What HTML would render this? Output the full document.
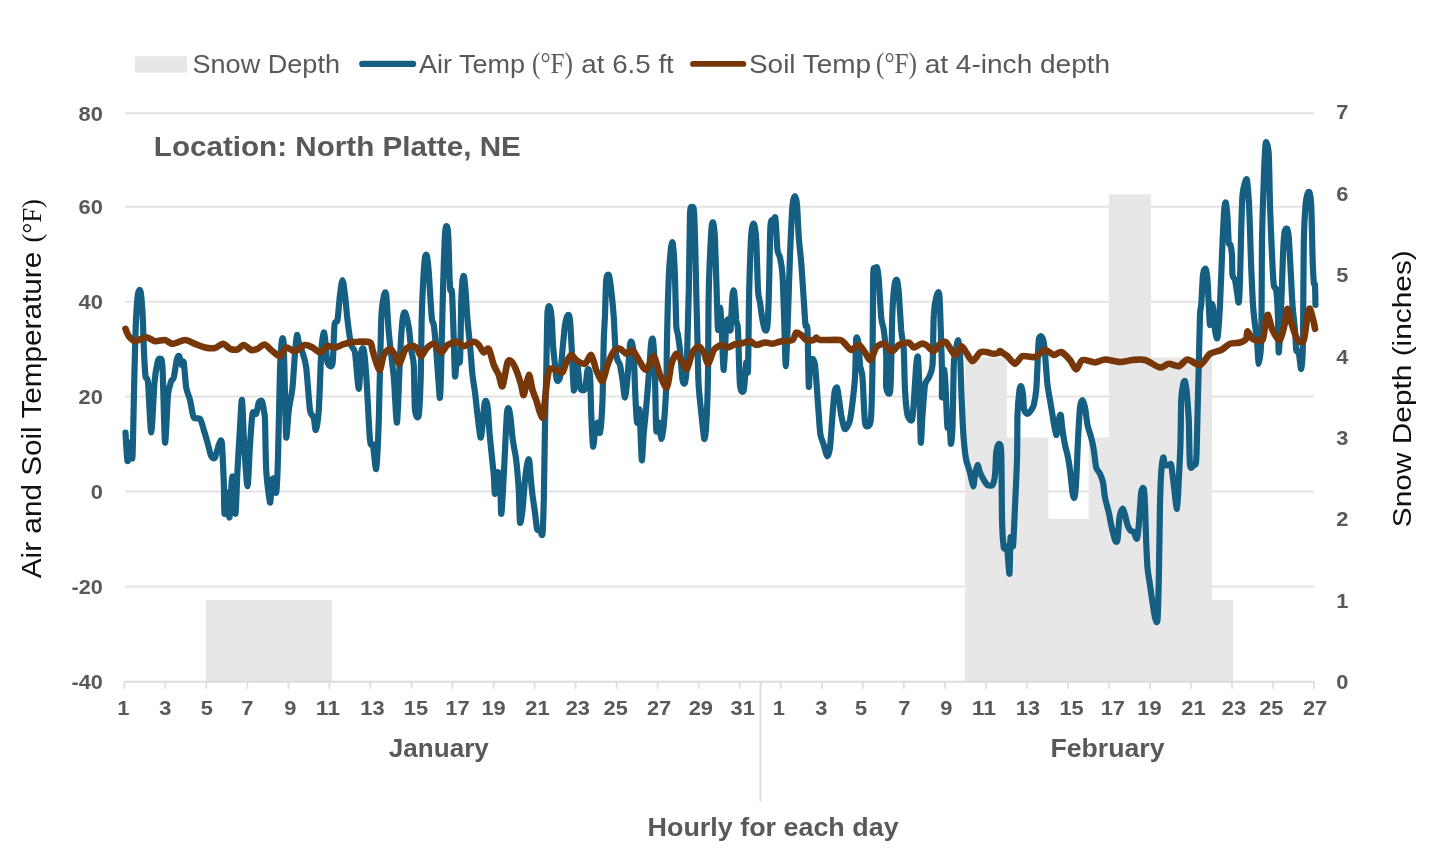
<!DOCTYPE html><html><head><meta charset="utf-8"><title>Chart</title><style>
html,body{margin:0;padding:0;background:#fff;}svg{display:block}
text{font-family:"Liberation Sans",sans-serif;}
.b{font-weight:bold;fill:#595959}.g{fill:#595959}.k{fill:#111}.s{font-family:"Liberation Serif",serif}
</style></head><body>
<svg width="1440" height="865" viewBox="0 0 1440 865">
<rect width="1440" height="865" fill="#fff"/>
<line x1="125" x2="1314" y1="113.3" y2="113.3" stroke="#e3e3e3" stroke-width="2"/>
<line x1="125" x2="1314" y1="206.8" y2="206.8" stroke="#e3e3e3" stroke-width="2"/>
<line x1="125" x2="1314" y1="301.7" y2="301.7" stroke="#e3e3e3" stroke-width="2"/>
<line x1="125" x2="1314" y1="396.6" y2="396.6" stroke="#e3e3e3" stroke-width="2"/>
<line x1="125" x2="1314" y1="491.5" y2="491.5" stroke="#e3e3e3" stroke-width="2"/>
<line x1="125" x2="1314" y1="586.4" y2="586.4" stroke="#e3e3e3" stroke-width="2"/>
<rect x="205.8" y="600" width="126.2" height="81.70" fill="#e7e7e7"/>
<path d="M965,681.7 L965,357.5 L1006.8,357.5 L1006.8,437.5 L1048.4,437.5 L1048.4,518.8 L1088.7,518.8 L1088.7,437.5 L1108.9,437.5 L1108.9,194.3 L1151,194.3 L1151,357.5 L1212,357.5 L1212,600 L1233.2,600 L1233.2,681.7 Z" fill="#e7e7e7"/>
<line x1="124" x2="1314.5" y1="681.7" y2="681.7" stroke="#dcdcdc" stroke-width="2"/>
<line x1="124.25" x2="124.25" y1="681.7" y2="688.8" stroke="#dedede" stroke-width="1.8"/>
<line x1="165.28" x2="165.28" y1="681.7" y2="688.8" stroke="#dedede" stroke-width="1.8"/>
<line x1="206.31" x2="206.31" y1="681.7" y2="688.8" stroke="#dedede" stroke-width="1.8"/>
<line x1="247.34" x2="247.34" y1="681.7" y2="688.8" stroke="#dedede" stroke-width="1.8"/>
<line x1="288.37" x2="288.37" y1="681.7" y2="688.8" stroke="#dedede" stroke-width="1.8"/>
<line x1="329.40" x2="329.40" y1="681.7" y2="688.8" stroke="#dedede" stroke-width="1.8"/>
<line x1="370.43" x2="370.43" y1="681.7" y2="688.8" stroke="#dedede" stroke-width="1.8"/>
<line x1="411.46" x2="411.46" y1="681.7" y2="688.8" stroke="#dedede" stroke-width="1.8"/>
<line x1="452.49" x2="452.49" y1="681.7" y2="688.8" stroke="#dedede" stroke-width="1.8"/>
<line x1="493.52" x2="493.52" y1="681.7" y2="688.8" stroke="#dedede" stroke-width="1.8"/>
<line x1="534.55" x2="534.55" y1="681.7" y2="688.8" stroke="#dedede" stroke-width="1.8"/>
<line x1="575.58" x2="575.58" y1="681.7" y2="688.8" stroke="#dedede" stroke-width="1.8"/>
<line x1="616.61" x2="616.61" y1="681.7" y2="688.8" stroke="#dedede" stroke-width="1.8"/>
<line x1="657.64" x2="657.64" y1="681.7" y2="688.8" stroke="#dedede" stroke-width="1.8"/>
<line x1="698.67" x2="698.67" y1="681.7" y2="688.8" stroke="#dedede" stroke-width="1.8"/>
<line x1="739.70" x2="739.70" y1="681.7" y2="688.8" stroke="#dedede" stroke-width="1.8"/>
<line x1="780.73" x2="780.73" y1="681.7" y2="688.8" stroke="#dedede" stroke-width="1.8"/>
<line x1="821.76" x2="821.76" y1="681.7" y2="688.8" stroke="#dedede" stroke-width="1.8"/>
<line x1="862.79" x2="862.79" y1="681.7" y2="688.8" stroke="#dedede" stroke-width="1.8"/>
<line x1="903.82" x2="903.82" y1="681.7" y2="688.8" stroke="#dedede" stroke-width="1.8"/>
<line x1="944.85" x2="944.85" y1="681.7" y2="688.8" stroke="#dedede" stroke-width="1.8"/>
<line x1="985.88" x2="985.88" y1="681.7" y2="688.8" stroke="#dedede" stroke-width="1.8"/>
<line x1="1026.91" x2="1026.91" y1="681.7" y2="688.8" stroke="#dedede" stroke-width="1.8"/>
<line x1="1067.94" x2="1067.94" y1="681.7" y2="688.8" stroke="#dedede" stroke-width="1.8"/>
<line x1="1108.97" x2="1108.97" y1="681.7" y2="688.8" stroke="#dedede" stroke-width="1.8"/>
<line x1="1150.00" x2="1150.00" y1="681.7" y2="688.8" stroke="#dedede" stroke-width="1.8"/>
<line x1="1191.03" x2="1191.03" y1="681.7" y2="688.8" stroke="#dedede" stroke-width="1.8"/>
<line x1="1232.06" x2="1232.06" y1="681.7" y2="688.8" stroke="#dedede" stroke-width="1.8"/>
<line x1="1273.09" x2="1273.09" y1="681.7" y2="688.8" stroke="#dedede" stroke-width="1.8"/>
<line x1="1314.12" x2="1314.12" y1="681.7" y2="688.8" stroke="#dedede" stroke-width="1.8"/>
<line x1="760.5" x2="760.5" y1="681.7" y2="801" stroke="#dcdcdc" stroke-width="2"/>
<path d="M125.5,432.5 C125.8,436.3 126.8,459.9 127.5,461.2 C128.2,462.6 129.8,443.2 130.5,442.5 C131.2,441.8 132.0,465.9 132.5,456.2 C133.0,446.6 134.0,388.2 134.5,370.0 C135.0,351.8 135.5,330.2 136.0,320.0 C136.5,309.8 137.4,297.6 138.0,293.8 C138.6,289.9 139.9,288.8 140.5,291.2 C141.1,293.8 142.0,304.3 142.5,312.5 C143.0,320.7 143.6,344.0 144.0,352.5 C144.4,361.0 145.0,372.2 145.5,376.2 C146.0,380.2 147.2,375.0 148.0,382.5 C148.8,390.0 150.4,432.5 151.2,432.5 C152.1,432.5 153.7,391.8 154.5,382.5 C155.3,373.2 156.8,365.7 157.5,362.5 C158.2,359.3 159.3,358.1 160.0,358.8 C160.7,359.4 161.8,356.3 162.5,367.5 C163.2,378.7 164.3,438.8 165.0,442.5 C165.7,446.2 167.2,403.2 168.0,395.0 C168.8,386.8 170.5,383.6 171.2,381.2 C172.0,378.9 173.0,380.5 173.8,377.5 C174.5,374.5 176.3,361.6 177.0,358.8 C177.7,355.9 178.6,355.4 179.2,356.2 C179.9,357.1 181.2,364.2 181.8,365.0 C182.3,365.8 183.2,359.5 183.8,362.5 C184.3,365.5 185.4,382.5 186.2,387.5 C187.1,392.5 189.0,396.0 190.0,400.0 C191.0,404.0 192.4,415.0 193.8,417.5 C195.1,420.0 198.7,417.1 200.0,418.8 C201.3,420.4 202.8,426.8 203.8,430.0 C204.8,433.2 206.5,439.0 207.5,442.5 C208.5,446.0 210.2,454.2 211.2,456.2 C212.2,458.2 214.0,459.0 215.0,457.5 C216.0,456.0 217.8,447.0 218.8,445.0 C219.7,443.0 221.1,437.5 221.8,442.5 C222.4,447.5 223.4,473.0 223.8,482.5 C224.1,492.0 224.1,512.4 224.5,513.8 C224.9,515.1 226.3,492.0 227.0,492.5 C227.7,493.0 228.9,519.2 229.5,517.5 C230.1,515.8 231.2,485.0 231.8,480.0 C232.3,475.0 233.2,475.5 233.8,480.0 C234.2,484.5 235.0,515.1 235.5,513.8 C236.0,512.4 236.9,481.5 237.5,470.0 C238.1,458.5 239.4,436.8 240.0,427.5 C240.6,418.2 241.4,397.7 242.0,400.0 C242.6,402.3 243.5,433.5 244.2,445.0 C245.0,456.5 246.7,486.2 247.5,486.2 C248.3,486.2 249.3,454.7 250.0,445.0 C250.7,435.3 251.7,417.9 252.5,413.8 C253.3,409.6 255.4,415.2 256.2,413.8 C257.1,412.2 258.0,404.2 258.8,402.5 C259.5,400.8 261.3,400.2 262.0,401.2 C262.7,402.2 263.4,407.5 263.8,410.0 C264.1,412.5 264.7,412.0 265.0,420.0 C265.3,428.0 265.6,459.0 266.2,470.0 C266.9,481.0 269.3,500.8 270.0,502.5 C270.7,504.2 271.2,485.7 271.8,482.5 C272.2,479.3 273.1,477.4 273.8,478.8 C274.4,480.1 275.7,495.3 276.2,492.5 C276.8,489.7 277.5,473.8 278.0,457.5 C278.5,441.2 279.5,385.7 280.0,370.0 C280.5,354.3 281.5,343.3 282.0,340.0 C282.5,336.7 283.4,337.7 283.8,345.0 C284.1,352.3 284.7,382.7 285.0,395.0 C285.3,407.3 285.8,435.5 286.2,437.5 C286.8,439.5 287.9,416.7 288.8,410.0 C289.6,403.3 291.7,395.2 292.5,387.5 C293.3,379.8 294.4,359.5 295.0,352.5 C295.6,345.5 296.5,336.3 297.0,335.0 C297.5,333.7 298.0,340.2 298.8,342.5 C299.5,344.8 301.5,349.2 302.5,352.5 C303.5,355.8 305.2,359.8 306.2,367.5 C307.2,375.2 309.0,403.3 310.0,410.0 C311.0,416.7 313.0,414.8 313.8,417.5 C314.5,420.2 315.1,431.0 315.8,430.0 C316.4,429.0 318.0,420.3 318.8,410.0 C319.5,399.7 320.6,362.8 321.2,352.5 C321.9,342.2 323.2,333.8 323.8,332.5 C324.3,331.2 325.0,338.5 325.5,342.5 C326.0,346.5 326.6,359.7 327.5,362.5 C328.4,365.3 331.6,368.8 332.5,363.8 C333.4,358.8 333.8,330.8 334.5,325.0 C335.2,319.2 336.8,324.0 337.5,320.0 C338.2,316.0 339.3,300.3 340.0,295.0 C340.7,289.7 341.8,280.0 342.5,280.0 C343.2,280.0 344.3,289.7 345.0,295.0 C345.7,300.3 346.7,313.3 347.5,320.0 C348.3,326.7 350.2,340.7 351.2,345.0 C352.2,349.3 354.0,346.7 355.0,352.5 C356.0,358.3 357.9,388.8 358.8,388.8 C359.6,388.8 360.6,357.7 361.2,352.5 C361.9,347.3 363.1,347.0 363.8,350.0 C364.4,353.0 365.4,363.0 366.2,375.0 C367.1,387.0 369.1,430.7 370.0,440.0 C370.9,449.3 372.2,441.2 373.0,445.0 C373.8,448.8 375.5,472.1 376.2,468.8 C377.0,465.4 378.1,439.8 378.8,420.0 C379.4,400.2 380.6,336.5 381.2,320.0 C381.9,303.5 383.1,299.6 383.8,296.2 C384.4,292.9 385.6,290.2 386.2,295.0 C386.9,299.8 387.8,321.5 388.8,332.5 C389.8,343.5 392.6,365.5 393.8,377.5 C394.9,389.5 396.2,425.2 397.0,422.5 C397.8,419.8 399.3,371.2 400.0,357.5 C400.7,343.8 401.8,326.0 402.5,320.0 C403.2,314.0 404.2,311.5 405.0,312.5 C405.8,313.5 407.9,322.5 408.8,327.5 C409.6,332.5 410.6,345.0 411.2,350.0 C411.9,355.0 413.2,357.0 413.8,365.0 C414.2,373.0 414.3,403.3 415.0,410.0 C415.7,416.7 418.0,419.7 418.8,415.0 C419.5,410.3 420.4,388.3 420.8,375.0 C421.1,361.7 421.4,327.0 421.8,315.0 C422.1,303.0 422.6,292.7 423.0,285.0 C423.4,277.3 424.5,261.3 425.0,257.5 C425.5,253.7 426.5,254.2 427.0,256.2 C427.5,258.2 428.3,266.7 428.8,272.5 C429.2,278.3 430.1,293.7 430.5,300.0 C430.9,306.3 431.6,316.7 432.0,320.0 C432.4,323.3 433.2,321.0 433.8,325.0 C434.3,329.0 435.6,342.0 436.2,350.0 C436.9,358.0 438.2,378.7 438.8,385.0 C439.2,391.3 439.7,400.2 440.0,397.5 C440.3,394.8 440.9,379.3 441.2,365.0 C441.6,350.7 442.5,307.3 443.0,290.0 C443.5,272.7 444.5,243.5 445.0,235.0 C445.5,226.5 446.1,226.2 446.5,226.2 C446.9,226.2 447.8,226.8 448.2,235.0 C448.7,243.2 449.5,279.8 450.0,287.5 C450.5,295.2 451.5,285.5 452.0,292.5 C452.5,299.5 453.4,328.8 453.8,340.0 C454.1,351.2 454.6,373.6 455.0,376.2 C455.4,378.9 456.3,362.2 457.0,360.0 C457.7,357.8 459.4,367.7 460.0,360.0 C460.6,352.3 460.9,313.2 461.2,302.5 C461.6,291.8 462.1,283.5 462.5,280.0 C462.9,276.5 463.6,274.9 464.0,276.2 C464.4,277.6 465.0,284.2 465.5,290.0 C466.0,295.8 466.9,312.7 467.5,320.0 C468.1,327.3 469.3,337.7 470.0,345.0 C470.7,352.3 471.8,368.7 472.5,375.0 C473.2,381.3 474.3,387.2 475.0,392.5 C475.7,397.8 476.8,409.0 477.5,415.0 C478.2,421.0 479.8,436.2 480.5,437.5 C481.2,438.8 482.0,429.5 482.5,425.0 C483.0,420.5 484.0,406.9 484.5,403.8 C485.0,400.6 485.8,400.4 486.2,401.2 C486.7,402.1 487.6,405.8 488.0,410.0 C488.4,414.2 489.1,427.2 489.5,432.5 C489.9,437.8 490.7,444.3 491.2,450.0 C491.8,455.7 493.2,469.2 493.8,475.0 C494.2,480.8 494.5,494.1 495.0,493.8 C495.5,493.4 496.8,474.3 497.5,472.5 C498.2,470.7 499.5,474.5 500.0,480.0 C500.5,485.5 500.9,512.4 501.2,513.8 C501.6,515.1 502.5,498.5 503.0,490.0 C503.5,481.5 504.5,460.3 505.0,450.0 C505.5,439.7 506.5,418.0 507.0,412.5 C507.5,407.0 508.3,408.1 508.8,408.8 C509.2,409.4 510.0,413.7 510.5,417.5 C511.0,421.3 512.0,433.2 512.5,437.5 C513.0,441.8 514.0,447.0 514.5,450.0 C515.0,453.0 515.7,454.7 516.2,460.0 C516.8,465.3 518.2,481.7 518.8,490.0 C519.2,498.3 519.5,519.8 520.0,522.5 C520.5,525.2 521.8,515.7 522.5,510.0 C523.2,504.3 524.3,486.3 525.0,480.0 C525.7,473.7 526.9,465.2 527.5,462.5 C528.1,459.8 528.9,458.3 529.2,460.0 C529.6,461.7 530.1,470.3 530.5,475.0 C530.9,479.7 531.9,490.0 532.5,495.0 C533.1,500.0 534.4,508.0 535.0,512.5 C535.6,517.0 536.3,526.4 537.0,528.8 C537.7,531.1 539.3,529.3 540.0,530.0 C540.7,530.7 542.0,537.8 542.5,533.8 C543.0,529.8 543.4,514.5 543.8,500.0 C544.1,485.5 544.7,441.7 545.0,425.0 C545.3,408.3 545.9,390.0 546.2,375.0 C546.6,360.0 547.0,321.5 547.5,312.5 C548.0,303.5 549.4,306.5 550.0,307.5 C550.6,308.5 551.4,315.0 551.8,320.0 C552.1,325.0 552.6,339.0 553.0,345.0 C553.4,351.0 554.5,360.3 555.0,365.0 C555.5,369.7 556.1,378.3 556.8,380.0 C557.4,381.7 559.2,381.5 560.0,377.5 C560.8,373.5 561.8,357.0 562.5,350.0 C563.2,343.0 564.3,329.7 565.0,325.0 C565.7,320.3 567.3,315.7 568.0,315.0 C568.7,314.3 569.5,315.3 570.0,320.0 C570.5,324.7 571.2,340.7 571.8,350.0 C572.2,359.3 573.3,386.7 573.8,390.0 C574.2,393.3 574.5,378.3 575.0,375.0 C575.5,371.7 576.8,363.3 577.5,365.0 C578.2,366.7 579.0,384.3 580.0,387.5 C581.0,390.7 584.0,391.1 585.0,388.8 C586.0,386.4 586.8,371.8 587.5,370.0 C588.2,368.2 589.5,369.3 590.0,375.0 C590.5,380.7 590.9,403.0 591.2,412.5 C591.6,422.0 592.5,443.6 593.0,446.2 C593.5,448.9 594.4,435.7 595.0,432.5 C595.6,429.3 596.8,422.5 597.5,422.5 C598.2,422.5 599.3,435.5 600.0,432.5 C600.7,429.5 602.0,412.3 602.5,400.0 C603.0,387.7 603.4,351.3 603.8,340.0 C604.1,328.7 604.7,323.0 605.0,315.0 C605.3,307.0 605.8,285.3 606.2,280.0 C606.8,274.7 608.1,273.7 608.8,275.0 C609.4,276.3 610.6,284.3 611.2,290.0 C611.9,295.7 613.2,309.5 613.8,317.5 C614.3,325.5 615.0,344.3 615.5,350.0 C616.0,355.7 616.9,358.0 617.5,360.0 C618.1,362.0 619.3,362.3 620.0,365.0 C620.7,367.7 621.8,375.7 622.5,380.0 C623.2,384.3 624.3,397.8 625.0,397.5 C625.7,397.2 626.8,384.5 627.5,377.5 C628.2,370.5 629.4,349.7 630.0,345.0 C630.6,340.3 631.2,341.2 631.8,342.5 C632.2,343.8 633.3,349.0 633.8,355.0 C634.2,361.0 634.6,378.5 635.0,387.5 C635.4,396.5 636.4,419.5 637.0,422.5 C637.6,425.5 638.9,405.0 639.5,410.0 C640.1,415.0 641.2,457.0 641.8,460.0 C642.3,463.0 643.1,439.5 643.8,432.5 C644.4,425.5 645.6,415.2 646.2,407.5 C646.9,399.8 648.1,383.7 648.8,375.0 C649.4,366.3 650.7,347.2 651.2,342.5 C651.8,337.8 652.6,337.7 653.0,340.0 C653.4,342.3 654.2,355.3 654.5,360.0 C654.8,364.7 654.8,365.7 655.0,375.0 C655.2,384.3 655.8,423.7 656.2,430.0 C656.8,436.3 658.1,421.3 658.8,422.5 C659.4,423.7 660.6,438.4 661.2,438.8 C661.9,439.1 663.1,431.8 663.8,425.0 C664.4,418.2 665.8,398.8 666.2,387.5 C666.7,376.2 666.7,354.7 667.0,340.0 C667.3,325.3 668.2,290.0 668.8,277.5 C669.3,265.0 670.7,250.6 671.2,246.2 C671.8,241.9 672.5,240.8 673.0,245.0 C673.5,249.2 674.6,266.8 675.0,277.5 C675.4,288.2 675.9,317.3 676.2,325.0 C676.6,332.7 677.5,331.7 678.0,335.0 C678.5,338.3 679.4,344.0 680.0,350.0 C680.6,356.0 681.8,375.7 682.5,380.0 C683.2,384.3 684.4,384.5 685.0,382.5 C685.6,380.5 686.2,377.3 686.8,365.0 C687.2,352.7 688.3,310.0 688.8,290.0 C689.2,270.0 689.6,226.0 690.0,215.0 C690.4,204.0 691.4,207.5 692.0,207.5 C692.6,207.5 693.7,204.0 694.2,215.0 C694.8,226.0 695.8,270.0 696.2,290.0 C696.8,310.0 697.7,352.0 698.0,365.0 C698.3,378.0 698.3,381.2 698.8,387.5 C699.2,393.8 700.5,405.7 701.2,412.5 C702.0,419.3 703.6,437.1 704.2,438.8 C704.9,440.4 705.8,433.5 706.2,425.0 C706.8,416.5 707.7,393.0 708.0,375.0 C708.3,357.0 708.3,309.0 708.8,290.0 C709.2,271.0 710.7,241.5 711.2,232.5 C711.8,223.5 712.5,221.5 713.0,222.5 C713.5,223.5 714.5,229.3 715.0,240.0 C715.5,250.7 716.6,290.5 717.0,302.5 C717.4,314.5 717.6,329.3 718.0,330.0 C718.4,330.7 719.5,307.5 720.0,307.5 C720.5,307.5 721.2,321.7 721.8,330.0 C722.2,338.3 723.1,370.7 723.8,370.0 C724.4,369.3 725.6,331.7 726.2,325.0 C726.9,318.3 728.2,319.3 728.8,320.0 C729.3,320.7 730.0,333.3 730.5,330.0 C731.0,326.7 732.0,300.0 732.5,295.0 C733.0,290.0 733.8,289.2 734.2,292.5 C734.8,295.8 735.8,315.0 736.2,320.0 C736.8,325.0 737.5,321.3 738.0,330.0 C738.5,338.7 739.2,377.0 740.0,385.0 C740.8,393.0 742.9,393.0 743.8,390.0 C744.6,387.0 745.7,365.2 746.2,362.5 C746.8,359.8 747.6,379.7 748.0,370.0 C748.4,360.3 748.8,308.0 749.2,290.0 C749.7,272.0 750.6,243.8 751.2,235.0 C751.9,226.2 753.1,223.1 753.8,223.8 C754.4,224.4 755.7,231.2 756.2,240.0 C756.8,248.8 757.5,281.7 758.0,290.0 C758.5,298.3 759.4,298.5 760.0,302.5 C760.6,306.5 761.8,316.3 762.5,320.0 C763.2,323.7 764.3,329.3 765.0,330.0 C765.7,330.7 766.9,331.7 767.5,325.0 C768.1,318.3 768.9,293.3 769.2,280.0 C769.6,266.7 769.9,233.0 770.5,225.0 C771.1,217.0 773.1,220.8 773.8,220.0 C774.4,219.2 775.0,214.8 775.5,218.8 C776.0,222.8 776.9,244.8 777.5,250.0 C778.1,255.2 779.3,254.2 780.0,257.5 C780.7,260.8 781.9,265.3 782.5,275.0 C783.1,284.7 784.1,317.8 784.5,330.0 C784.9,342.2 785.4,366.2 785.8,366.2 C786.1,366.2 786.9,344.8 787.5,330.0 C788.1,315.2 789.3,271.7 790.0,255.0 C790.7,238.3 791.8,212.8 792.5,205.0 C793.2,197.2 794.4,196.2 795.0,196.2 C795.6,196.2 796.5,199.5 797.0,205.0 C797.5,210.5 798.2,229.8 798.8,237.5 C799.3,245.2 800.6,254.2 801.2,262.5 C801.9,270.8 803.2,291.7 803.8,300.0 C804.3,308.3 805.0,321.0 805.5,325.0 C806.0,329.0 807.1,321.8 807.5,330.0 C807.9,338.2 808.4,381.6 808.8,386.2 C809.1,390.9 809.5,368.7 810.0,365.0 C810.5,361.3 811.8,358.8 812.5,358.8 C813.2,358.8 814.4,360.8 815.0,365.0 C815.6,369.2 816.5,383.3 817.0,390.0 C817.5,396.7 818.3,409.0 818.8,415.0 C819.2,421.0 819.8,431.0 820.5,435.0 C821.2,439.0 822.9,442.2 823.8,445.0 C824.6,447.8 826.2,455.9 827.0,456.2 C827.8,456.6 829.3,453.0 830.0,447.5 C830.7,442.0 831.9,422.3 832.5,415.0 C833.1,407.7 833.9,396.2 834.5,392.5 C835.1,388.8 836.4,386.8 837.0,387.5 C837.6,388.2 838.2,393.8 838.8,397.5 C839.3,401.2 840.5,410.8 841.2,415.0 C842.0,419.2 843.7,427.2 844.5,428.8 C845.3,430.2 846.8,427.4 847.5,426.2 C848.2,425.1 849.3,423.2 850.0,420.0 C850.7,416.8 851.8,408.2 852.5,402.5 C853.2,396.8 854.5,386.0 855.0,377.5 C855.5,369.0 855.8,343.1 856.2,338.8 C856.8,334.4 858.2,341.5 858.8,345.0 C859.2,348.5 859.5,360.7 860.0,365.0 C860.5,369.3 861.8,369.8 862.5,377.5 C863.2,385.2 864.1,416.2 865.0,422.5 C865.9,428.8 868.7,426.0 869.5,425.0 C870.3,424.0 870.9,423.0 871.2,415.0 C871.6,407.0 872.2,383.7 872.5,365.0 C872.8,346.3 872.9,287.7 873.2,275.0 C873.6,262.3 874.5,271.0 875.0,270.0 C875.5,269.0 876.5,266.2 877.0,267.5 C877.5,268.8 878.2,273.3 878.8,280.0 C879.3,286.7 880.6,310.8 881.2,317.5 C881.9,324.2 883.1,325.0 883.8,330.0 C884.4,335.0 885.9,347.3 886.2,355.0 C886.6,362.7 885.8,382.5 886.2,387.5 C886.8,392.5 889.3,395.5 890.0,392.5 C890.7,389.5 891.0,375.0 891.2,365.0 C891.5,355.0 892.0,326.5 892.2,317.5 C892.5,308.5 892.9,302.2 893.2,297.5 C893.6,292.8 894.5,284.8 895.0,282.5 C895.5,280.2 896.5,278.7 897.0,280.0 C897.5,281.3 898.2,285.8 898.8,292.5 C899.3,299.2 900.6,322.3 901.2,330.0 C901.9,337.7 903.2,342.0 903.8,350.0 C904.2,358.0 904.5,381.3 905.0,390.0 C905.5,398.7 906.6,411.0 907.5,415.0 C908.4,419.0 911.2,421.7 912.0,420.0 C912.8,418.3 913.2,409.8 913.8,402.5 C914.3,395.2 915.7,371.0 916.2,365.0 C916.8,359.0 917.6,354.2 918.0,357.5 C918.4,360.8 919.1,378.7 919.5,390.0 C919.9,401.3 920.4,439.2 920.8,442.5 C921.1,445.8 921.9,422.7 922.5,415.0 C923.1,407.3 924.2,390.0 925.0,385.0 C925.8,380.0 927.8,380.2 928.8,377.5 C929.8,374.8 931.8,373.3 932.5,365.0 C933.2,356.7 933.2,324.0 933.8,315.0 C934.2,306.0 935.5,300.3 936.2,297.5 C937.0,294.7 938.6,289.4 939.2,293.8 C939.9,298.1 940.4,319.8 940.8,330.0 C941.1,340.2 941.8,361.0 942.0,370.0 C942.2,379.0 941.7,397.5 942.0,397.5 C942.3,397.5 943.9,369.3 944.5,370.0 C945.1,370.7 945.9,394.8 946.2,402.5 C946.6,410.2 947.1,425.2 947.5,427.5 C947.9,429.8 949.1,417.8 949.5,420.0 C949.9,422.2 950.4,442.8 950.8,443.8 C951.1,444.8 952.1,438.0 952.5,427.5 C952.9,417.0 953.4,374.7 953.8,365.0 C954.1,355.3 954.4,358.3 955.0,355.0 C955.6,351.7 957.3,340.0 958.0,340.0 C958.7,340.0 959.7,351.7 960.0,355.0 C960.3,358.3 960.3,358.7 960.5,365.0 C960.7,371.3 961.3,392.5 961.8,402.5 C962.2,412.5 963.1,432.3 963.8,440.0 C964.4,447.7 965.4,455.7 966.2,460.0 C967.1,464.3 969.1,469.0 970.0,472.5 C970.9,476.0 972.6,485.9 973.2,486.2 C973.9,486.6 974.4,477.8 975.0,475.0 C975.6,472.2 976.8,465.3 977.5,465.0 C978.2,464.7 979.2,470.5 980.0,472.5 C980.8,474.5 982.8,478.3 983.8,480.0 C984.8,481.7 986.3,484.3 987.5,485.0 C988.7,485.7 991.5,486.3 992.5,485.0 C993.5,483.7 994.5,479.3 995.0,475.0 C995.5,470.7 995.8,456.7 996.2,452.5 C996.8,448.3 998.1,443.8 998.8,443.8 C999.4,443.8 1000.8,442.7 1001.2,452.5 C1001.7,462.3 1001.7,504.8 1002.0,517.5 C1002.3,530.2 1003.1,543.5 1003.8,547.5 C1004.4,551.5 1006.2,544.0 1007.0,547.5 C1007.8,551.0 1009.0,575.1 1009.5,573.8 C1010.0,572.4 1010.0,541.2 1010.5,537.5 C1011.0,533.8 1012.5,548.9 1013.0,546.2 C1013.5,543.6 1014.0,529.0 1014.5,517.5 C1015.0,506.0 1016.6,473.7 1017.0,460.0 C1017.4,446.3 1017.2,424.3 1017.5,415.0 C1017.8,405.7 1019.0,393.8 1019.5,390.0 C1020.0,386.2 1020.8,385.6 1021.2,386.2 C1021.7,386.9 1022.6,391.8 1023.0,395.0 C1023.4,398.2 1023.6,407.5 1024.2,410.0 C1024.8,412.5 1026.6,413.8 1027.5,413.8 C1028.4,413.8 1030.4,411.2 1031.2,410.0 C1032.1,408.8 1033.1,407.7 1033.8,405.0 C1034.4,402.3 1035.8,395.3 1036.2,390.0 C1036.8,384.7 1037.2,371.7 1037.5,365.0 C1037.8,358.3 1038.2,343.8 1038.8,340.0 C1039.2,336.2 1040.6,335.9 1041.2,336.2 C1041.9,336.6 1043.2,339.3 1043.8,342.5 C1044.3,345.7 1045.0,354.3 1045.5,360.0 C1046.0,365.7 1046.9,379.7 1047.5,385.0 C1048.1,390.3 1049.3,396.0 1050.0,400.0 C1050.7,404.0 1051.7,410.3 1052.5,415.0 C1053.3,419.7 1055.4,434.3 1056.2,435.0 C1057.1,435.7 1058.2,422.7 1058.8,420.0 C1059.3,417.3 1060.2,413.7 1060.8,415.0 C1061.2,416.3 1061.9,426.0 1062.5,430.0 C1063.1,434.0 1064.3,441.7 1065.0,445.0 C1065.7,448.3 1066.8,451.7 1067.5,455.0 C1068.2,458.3 1069.3,465.0 1070.0,470.0 C1070.7,475.0 1071.9,488.8 1072.5,492.5 C1073.1,496.2 1074.0,499.2 1074.5,497.5 C1075.0,495.8 1075.8,487.7 1076.2,480.0 C1076.7,472.3 1077.5,449.7 1078.0,440.0 C1078.5,430.3 1079.4,412.8 1080.0,407.5 C1080.6,402.2 1081.8,400.0 1082.5,400.0 C1083.2,400.0 1084.3,404.2 1085.0,407.5 C1085.7,410.8 1086.7,421.0 1087.5,425.0 C1088.3,429.0 1090.4,434.2 1091.2,437.5 C1092.1,440.8 1093.1,446.0 1093.8,450.0 C1094.4,454.0 1095.4,464.3 1096.2,467.5 C1097.1,470.7 1099.1,471.8 1100.0,473.8 C1100.9,475.8 1102.3,479.3 1103.0,482.5 C1103.7,485.7 1104.2,493.5 1105.0,497.5 C1105.8,501.5 1107.9,508.8 1108.8,512.5 C1109.6,516.2 1110.4,521.3 1111.2,525.0 C1112.1,528.7 1114.2,538.0 1115.0,540.0 C1115.8,542.0 1116.9,543.0 1117.5,540.0 C1118.1,537.0 1118.8,521.7 1119.5,517.5 C1120.2,513.3 1121.8,509.1 1122.5,508.8 C1123.2,508.4 1124.3,512.8 1125.0,515.0 C1125.7,517.2 1126.8,523.0 1127.5,525.0 C1128.2,527.0 1129.2,529.0 1130.0,530.0 C1130.8,531.0 1132.8,531.3 1133.8,532.5 C1134.7,533.7 1136.3,539.8 1137.0,538.8 C1137.7,537.8 1138.2,531.2 1138.8,525.0 C1139.3,518.8 1140.6,497.3 1141.2,492.5 C1141.9,487.7 1143.2,487.1 1143.8,488.8 C1144.2,490.4 1144.7,497.8 1145.0,505.0 C1145.3,512.2 1145.9,534.2 1146.2,542.5 C1146.6,550.8 1147.0,561.8 1147.5,567.5 C1148.0,573.2 1149.3,580.3 1150.0,585.0 C1150.7,589.7 1151.8,598.2 1152.5,602.5 C1153.2,606.8 1154.3,615.2 1155.0,617.5 C1155.7,619.8 1157.0,625.0 1157.5,620.0 C1158.0,615.0 1158.4,595.3 1158.8,580.0 C1159.1,564.7 1159.7,519.3 1160.0,505.0 C1160.3,490.7 1160.8,478.8 1161.2,472.5 C1161.7,466.2 1162.8,458.5 1163.2,457.5 C1163.8,456.5 1164.3,464.0 1165.0,465.0 C1165.7,466.0 1167.9,465.0 1168.8,465.0 C1169.6,465.0 1170.6,462.3 1171.2,465.0 C1171.9,467.7 1173.0,479.2 1173.8,485.0 C1174.5,490.8 1176.3,509.4 1177.0,508.8 C1177.7,508.1 1178.3,488.8 1178.8,480.0 C1179.2,471.2 1180.2,453.2 1180.5,442.5 C1180.8,431.8 1180.9,407.7 1181.2,400.0 C1181.6,392.3 1182.5,387.5 1183.0,385.0 C1183.5,382.5 1184.5,379.9 1185.0,381.2 C1185.5,382.6 1186.5,389.8 1187.0,395.0 C1187.5,400.2 1188.3,410.7 1188.8,420.0 C1189.2,429.3 1189.3,459.0 1190.0,465.0 C1190.7,471.0 1192.9,465.7 1193.8,465.0 C1194.6,464.3 1195.8,466.7 1196.2,460.0 C1196.8,453.3 1197.2,427.7 1197.5,415.0 C1197.8,402.3 1198.4,378.3 1198.8,365.0 C1199.1,351.7 1199.7,323.0 1200.0,315.0 C1200.3,307.0 1200.8,310.3 1201.2,305.0 C1201.7,299.7 1202.4,279.8 1203.0,275.0 C1203.6,270.2 1204.9,268.1 1205.5,268.8 C1206.1,269.4 1207.1,275.2 1207.5,280.0 C1207.9,284.8 1208.4,299.0 1208.8,305.0 C1209.1,311.0 1209.7,325.0 1210.0,325.0 C1210.3,325.0 1210.8,307.3 1211.2,305.0 C1211.7,302.7 1212.5,304.2 1213.0,307.5 C1213.5,310.8 1214.4,326.0 1215.0,330.0 C1215.6,334.0 1216.8,340.8 1217.5,337.5 C1218.2,334.2 1219.3,317.7 1220.0,305.0 C1220.7,292.3 1221.9,255.2 1222.5,242.5 C1223.1,229.8 1223.8,215.3 1224.2,210.0 C1224.7,204.7 1225.3,201.5 1225.8,202.5 C1226.2,203.5 1227.1,212.2 1227.5,217.5 C1227.9,222.8 1228.3,238.8 1228.8,242.5 C1229.2,246.2 1230.1,243.3 1230.5,245.0 C1230.9,246.7 1231.7,251.0 1232.0,255.0 C1232.3,259.0 1232.1,271.7 1232.5,275.0 C1232.9,278.3 1234.4,277.7 1235.0,280.0 C1235.6,282.3 1236.5,289.5 1237.0,292.5 C1237.5,295.5 1238.3,304.2 1238.8,302.5 C1239.2,300.8 1239.7,289.7 1240.0,280.0 C1240.3,270.3 1240.9,241.3 1241.2,230.0 C1241.6,218.7 1242.0,201.3 1242.5,195.0 C1243.0,188.7 1244.4,184.5 1245.0,182.5 C1245.6,180.5 1246.5,177.7 1247.0,180.0 C1247.5,182.3 1248.3,193.3 1248.8,200.0 C1249.2,206.7 1249.7,221.0 1250.0,230.0 C1250.3,239.0 1250.8,257.5 1251.2,267.5 C1251.7,277.5 1252.5,297.3 1253.0,305.0 C1253.5,312.7 1254.5,320.3 1255.0,325.0 C1255.5,329.7 1256.5,334.8 1257.0,340.0 C1257.5,345.2 1258.2,363.8 1258.8,363.8 C1259.3,363.8 1260.8,356.2 1261.2,340.0 C1261.7,323.8 1261.7,263.8 1262.0,242.5 C1262.3,221.2 1263.3,193.0 1263.8,180.0 C1264.2,167.0 1265.1,149.8 1265.5,145.0 C1265.9,140.2 1266.6,142.4 1267.0,143.8 C1267.4,145.1 1268.3,146.8 1268.8,155.0 C1269.2,163.2 1269.6,191.7 1270.0,205.0 C1270.4,218.3 1271.5,244.3 1272.0,255.0 C1272.5,265.7 1273.2,280.3 1273.8,285.0 C1274.3,289.7 1275.7,285.7 1276.2,290.0 C1276.8,294.3 1277.7,309.2 1278.0,317.5 C1278.3,325.8 1278.3,354.2 1278.8,352.5 C1279.2,350.8 1280.7,318.0 1281.2,305.0 C1281.8,292.0 1282.6,264.7 1283.0,255.0 C1283.4,245.3 1284.0,236.0 1284.5,232.5 C1285.0,229.0 1286.4,228.1 1287.0,228.8 C1287.6,229.4 1288.3,232.3 1288.8,237.5 C1289.2,242.7 1290.0,258.5 1290.5,267.5 C1291.0,276.5 1291.9,296.7 1292.5,305.0 C1293.1,313.3 1294.5,324.0 1295.0,330.0 C1295.5,336.0 1295.8,347.0 1296.2,350.0 C1296.8,353.0 1298.1,350.0 1298.8,352.5 C1299.4,355.0 1300.7,370.4 1301.2,368.8 C1301.8,367.1 1302.7,356.8 1303.0,340.0 C1303.3,323.2 1303.4,260.5 1303.8,242.5 C1304.1,224.5 1305.0,211.5 1305.5,205.0 C1306.0,198.5 1307.0,195.4 1307.5,193.8 C1308.0,192.1 1309.0,191.0 1309.5,192.5 C1310.0,194.0 1310.8,196.7 1311.2,205.0 C1311.7,213.3 1312.2,244.7 1312.5,255.0 C1312.8,265.3 1313.4,278.5 1313.8,282.5 C1314.1,286.5 1314.8,282.0 1315.0,285.0 C1315.2,288.0 1315.4,302.3 1315.5,305.0" fill="none" stroke="#156082" stroke-width="6.2" stroke-linejoin="round" stroke-linecap="round"/>
<path d="M125.5,328.8 C125.9,329.8 127.5,334.6 128.8,336.2 C130.0,337.9 133.3,340.9 135.0,341.2 C136.7,341.6 139.6,339.2 141.2,338.8 C142.9,338.2 145.7,337.2 147.5,337.5 C149.3,337.8 152.7,340.9 155.0,341.2 C157.3,341.6 162.7,339.7 165.0,340.0 C167.3,340.3 169.8,343.8 172.5,343.8 C175.2,343.8 182.0,340.0 185.0,340.0 C188.0,340.0 192.3,342.8 195.0,343.8 C197.7,344.8 202.3,346.9 205.0,347.5 C207.7,348.1 212.6,348.5 215.0,348.0 C217.4,347.5 221.0,343.6 223.0,343.8 C225.0,343.9 228.1,348.0 230.0,348.8 C231.9,349.5 235.7,350.0 237.5,349.5 C239.3,349.0 241.9,344.9 243.8,345.0 C245.6,345.1 249.4,349.5 251.2,350.0 C253.1,350.5 255.7,349.5 257.5,348.8 C259.3,348.0 262.7,344.3 264.5,344.5 C266.3,344.7 269.2,348.4 271.2,350.0 C273.3,351.6 278.0,356.6 280.0,356.2 C282.0,355.9 284.2,348.2 286.2,347.5 C288.2,346.8 292.5,351.6 295.0,351.2 C297.5,350.9 302.7,345.5 305.0,345.0 C307.3,344.5 310.5,346.5 312.5,347.5 C314.5,348.5 318.0,352.7 320.0,352.5 C322.0,352.3 325.5,346.9 327.5,346.2 C329.5,345.6 332.7,347.8 335.0,347.5 C337.3,347.2 342.0,344.5 345.0,343.8 C348.0,343.0 354.2,341.9 357.5,341.8 C360.8,341.6 368.0,341.4 370.0,342.5 C372.0,343.6 371.7,347.3 372.5,350.0 C373.3,352.7 375.2,359.8 376.2,362.5 C377.2,365.2 379.0,371.0 380.0,370.0 C381.0,369.0 382.4,357.8 383.8,355.0 C385.1,352.2 388.5,348.8 390.0,348.8 C391.5,348.8 393.7,353.0 395.0,355.0 C396.3,357.0 398.2,364.4 399.5,363.8 C400.8,363.1 403.4,352.3 405.0,350.0 C406.6,347.7 409.8,346.6 411.2,346.2 C412.8,345.9 414.9,346.2 416.2,347.5 C417.6,348.8 419.9,356.1 421.2,356.2 C422.6,356.4 424.6,350.4 426.2,348.8 C427.9,347.1 431.8,343.2 433.8,343.8 C435.8,344.2 439.4,352.3 441.2,352.5 C443.1,352.7 445.3,346.4 447.5,345.0 C449.7,343.6 455.3,341.6 457.5,341.8 C459.7,341.9 461.6,346.2 463.8,346.2 C465.9,346.2 471.8,341.9 473.8,341.8 C475.8,341.6 477.4,343.6 478.8,345.0 C480.1,346.4 482.4,352.0 483.8,352.5 C485.1,353.0 487.4,347.1 488.8,348.8 C490.1,350.4 492.4,361.5 493.8,365.0 C495.1,368.5 497.6,372.2 498.8,375.0 C499.9,377.8 501.3,387.9 502.5,386.2 C503.7,384.6 506.3,365.8 507.5,362.5 C508.7,359.2 510.1,360.2 511.2,361.2 C512.4,362.2 514.9,366.8 516.2,370.0 C517.6,373.2 520.2,381.7 521.2,385.0 C522.2,388.3 522.8,396.3 523.8,395.0 C524.8,393.7 527.6,375.7 528.8,375.0 C529.9,374.3 531.5,386.7 532.5,390.0 C533.5,393.3 535.2,397.0 536.2,400.0 C537.2,403.0 539.1,410.2 540.0,412.5 C540.9,414.8 542.3,419.2 543.0,417.5 C543.7,415.8 544.4,405.3 545.0,400.0 C545.6,394.7 546.8,381.7 547.5,377.5 C548.2,373.3 548.8,369.8 550.0,368.8 C551.2,367.8 554.6,369.5 556.2,370.0 C557.9,370.5 561.2,373.5 562.5,372.5 C563.8,371.5 565.1,364.8 566.2,362.5 C567.4,360.2 569.9,355.3 571.2,355.0 C572.6,354.7 574.4,358.8 576.2,360.0 C578.1,361.2 583.0,364.4 585.0,363.8 C587.0,363.1 589.8,354.2 591.2,355.0 C592.8,355.8 594.8,366.5 596.2,370.0 C597.8,373.5 601.0,381.9 602.5,381.2 C604.0,380.6 606.0,369.0 607.5,365.0 C609.0,361.0 612.1,353.4 613.8,351.2 C615.4,349.1 618.3,348.4 620.0,348.8 C621.7,349.1 624.6,353.6 626.2,353.8 C627.9,353.9 630.8,349.2 632.5,350.0 C634.2,350.8 636.9,357.3 638.8,360.0 C640.6,362.7 644.2,370.5 646.2,370.0 C648.2,369.5 651.9,355.6 653.8,356.2 C655.6,356.9 658.2,370.8 660.0,375.0 C661.8,379.2 665.5,388.8 667.0,387.5 C668.5,386.2 670.0,369.5 671.2,365.0 C672.5,360.5 674.8,354.1 676.2,353.8 C677.8,353.4 681.1,360.5 682.5,362.5 C683.9,364.5 685.7,370.1 687.0,368.8 C688.3,367.4 690.9,355.5 692.5,352.5 C694.1,349.5 697.2,346.2 698.8,346.2 C700.2,346.2 702.5,350.2 703.8,352.5 C705.0,354.8 706.9,364.1 708.2,363.8 C709.6,363.4 712.0,352.5 713.8,350.0 C715.5,347.5 719.4,345.3 721.2,345.0 C723.1,344.7 725.7,347.6 727.5,347.5 C729.3,347.4 733.3,344.8 735.0,344.2 C736.7,343.8 738.0,344.1 740.0,343.8 C742.0,343.4 747.8,341.1 750.0,341.2 C752.2,341.4 754.2,344.8 756.2,345.0 C758.2,345.2 762.8,342.7 765.0,342.5 C767.2,342.3 770.3,343.9 772.5,343.8 C774.7,343.6 778.6,341.8 781.2,341.2 C783.9,340.8 790.5,341.2 792.5,340.0 C794.5,338.8 795.1,333.2 796.2,332.5 C797.4,331.8 799.9,334.0 801.2,335.0 C802.6,336.0 804.6,339.3 806.2,340.0 C807.9,340.7 812.4,340.3 813.8,340.0 C815.1,339.7 815.4,337.5 816.2,337.5 C817.1,337.5 816.8,339.7 820.0,340.0 C823.2,340.3 836.7,339.5 840.0,340.0 C843.3,340.5 843.5,342.4 845.0,343.8 C846.5,345.1 849.4,349.8 851.2,350.0 C853.1,350.2 856.9,344.7 858.8,345.0 C860.6,345.3 863.4,350.5 865.0,352.5 C866.6,354.5 869.0,360.7 870.5,360.0 C872.0,359.3 874.5,349.7 876.2,347.5 C878.0,345.3 881.7,343.2 883.8,343.8 C885.8,344.2 889.8,351.1 891.8,351.2 C893.8,351.4 896.5,346.2 898.8,345.0 C901.0,343.8 906.8,342.2 908.8,342.5 C910.8,342.8 912.1,347.3 913.8,347.5 C915.4,347.7 919.6,344.1 921.2,343.8 C922.9,343.4 924.6,344.0 926.2,345.0 C927.9,346.0 931.9,351.4 933.8,351.2 C935.6,351.1 938.3,344.9 940.0,343.8 C941.7,342.6 944.2,341.0 946.2,342.5 C948.2,344.0 953.0,354.5 955.0,355.0 C957.0,355.5 959.8,346.6 961.2,346.2 C962.8,345.9 964.8,350.5 966.2,352.5 C967.8,354.5 970.7,361.2 972.5,361.2 C974.3,361.2 978.2,353.7 980.0,352.5 C981.8,351.3 984.4,351.8 986.2,352.0 C988.1,352.2 991.8,353.8 993.8,353.8 C995.8,353.8 1000.4,352.3 1001.2,352.0 C1002.1,351.7 999.2,350.7 1000.0,351.2 C1000.8,351.8 1005.5,354.6 1007.5,356.2 C1009.5,357.9 1013.0,363.8 1015.0,363.8 C1017.0,363.8 1019.8,357.1 1022.5,356.2 C1025.2,355.4 1032.0,357.8 1035.0,357.0 C1038.0,356.2 1042.5,350.3 1045.0,350.0 C1047.5,349.7 1051.6,354.7 1053.8,355.0 C1055.9,355.3 1059.1,351.3 1061.2,352.0 C1063.4,352.7 1068.0,357.7 1070.0,360.0 C1072.0,362.3 1074.6,369.5 1076.2,369.5 C1077.9,369.5 1080.0,360.9 1082.5,360.0 C1085.0,359.1 1092.0,362.6 1095.0,362.5 C1098.0,362.4 1101.7,359.6 1105.0,359.5 C1108.3,359.4 1116.3,361.9 1120.0,362.0 C1123.7,362.1 1129.2,360.3 1132.5,360.0 C1135.8,359.7 1141.3,359.0 1145.0,360.0 C1148.7,361.0 1156.8,367.0 1160.0,367.5 C1163.2,368.0 1166.2,363.9 1168.8,363.8 C1171.2,363.6 1176.2,366.8 1178.8,366.2 C1181.2,365.7 1184.7,359.7 1187.5,359.5 C1190.3,359.3 1197.0,365.8 1200.0,365.0 C1203.0,364.2 1207.2,355.8 1210.0,353.8 C1212.8,351.8 1218.6,351.3 1221.2,350.0 C1223.9,348.7 1227.5,344.8 1230.0,343.8 C1232.5,342.8 1237.8,343.2 1240.0,342.5 C1242.2,341.8 1245.2,340.2 1246.2,338.8 C1247.2,337.2 1246.7,331.2 1247.5,331.2 C1248.3,331.2 1250.5,337.6 1252.5,338.8 C1254.5,339.9 1260.8,342.2 1262.5,340.0 C1264.2,337.8 1264.8,325.8 1265.5,322.5 C1266.2,319.2 1267.1,314.0 1268.0,315.0 C1268.9,316.0 1270.9,326.7 1272.5,330.0 C1274.1,333.3 1278.3,341.0 1280.0,340.0 C1281.7,339.0 1284.0,326.7 1285.0,322.5 C1286.0,318.3 1286.7,308.8 1287.5,308.8 C1288.3,308.8 1289.9,318.3 1291.2,322.5 C1292.6,326.7 1295.8,337.7 1297.5,340.0 C1299.2,342.3 1302.4,343.3 1303.8,340.0 C1305.1,336.7 1306.7,319.2 1307.5,315.0 C1308.3,310.8 1309.2,307.8 1310.0,308.8 C1310.8,309.8 1313.1,319.8 1313.8,322.5 C1314.4,325.2 1314.8,327.9 1315.0,328.8" fill="none" stroke="#773709" stroke-width="6.6" stroke-linejoin="round" stroke-linecap="round"/>
<text class="b" x="102.90" y="120.80" font-size="21" text-anchor="end" textLength="24.29" lengthAdjust="spacingAndGlyphs">80</text>
<text class="b" x="102.90" y="214.30" font-size="21" text-anchor="end" textLength="24.29" lengthAdjust="spacingAndGlyphs">60</text>
<text class="b" x="102.90" y="309.20" font-size="21" text-anchor="end" textLength="24.29" lengthAdjust="spacingAndGlyphs">40</text>
<text class="b" x="102.90" y="404.10" font-size="21" text-anchor="end" textLength="24.29" lengthAdjust="spacingAndGlyphs">20</text>
<text class="b" x="102.90" y="499.00" font-size="21" text-anchor="end" textLength="12.15" lengthAdjust="spacingAndGlyphs">0</text>
<text class="b" x="102.90" y="593.90" font-size="21" text-anchor="end" textLength="31.29" lengthAdjust="spacingAndGlyphs">-20</text>
<text class="b" x="102.90" y="689.20" font-size="21" text-anchor="end" textLength="31.29" lengthAdjust="spacingAndGlyphs">-40</text>
<text class="b" x="1342.40" y="689.20" font-size="21" text-anchor="middle" textLength="12.15" lengthAdjust="spacingAndGlyphs">0</text>
<text class="b" x="1342.40" y="607.81" font-size="21" text-anchor="middle" textLength="12.15" lengthAdjust="spacingAndGlyphs">1</text>
<text class="b" x="1342.40" y="526.42" font-size="21" text-anchor="middle" textLength="12.15" lengthAdjust="spacingAndGlyphs">2</text>
<text class="b" x="1342.40" y="445.03" font-size="21" text-anchor="middle" textLength="12.15" lengthAdjust="spacingAndGlyphs">3</text>
<text class="b" x="1342.40" y="363.64" font-size="21" text-anchor="middle" textLength="12.15" lengthAdjust="spacingAndGlyphs">4</text>
<text class="b" x="1342.40" y="282.25" font-size="21" text-anchor="middle" textLength="12.15" lengthAdjust="spacingAndGlyphs">5</text>
<text class="b" x="1342.40" y="200.86" font-size="21" text-anchor="middle" textLength="12.15" lengthAdjust="spacingAndGlyphs">6</text>
<text class="b" x="1342.40" y="119.47" font-size="21" text-anchor="middle" textLength="12.15" lengthAdjust="spacingAndGlyphs">7</text>
<text class="b" x="123.25" y="715.40" font-size="21" text-anchor="middle" textLength="12.15" lengthAdjust="spacingAndGlyphs">1</text>
<text class="b" x="165.28" y="715.40" font-size="21" text-anchor="middle" textLength="12.15" lengthAdjust="spacingAndGlyphs">3</text>
<text class="b" x="206.81" y="715.40" font-size="21" text-anchor="middle" textLength="12.15" lengthAdjust="spacingAndGlyphs">5</text>
<text class="b" x="247.34" y="715.40" font-size="21" text-anchor="middle" textLength="12.15" lengthAdjust="spacingAndGlyphs">7</text>
<text class="b" x="290.37" y="715.40" font-size="21" text-anchor="middle" textLength="12.15" lengthAdjust="spacingAndGlyphs">9</text>
<text class="b" x="327.90" y="715.40" font-size="21" text-anchor="middle" textLength="24.29" lengthAdjust="spacingAndGlyphs">11</text>
<text class="b" x="372.43" y="715.40" font-size="21" text-anchor="middle" textLength="24.29" lengthAdjust="spacingAndGlyphs">13</text>
<text class="b" x="415.96" y="715.40" font-size="21" text-anchor="middle" textLength="24.29" lengthAdjust="spacingAndGlyphs">15</text>
<text class="b" x="457.49" y="715.40" font-size="21" text-anchor="middle" textLength="24.29" lengthAdjust="spacingAndGlyphs">17</text>
<text class="b" x="493.52" y="715.40" font-size="21" text-anchor="middle" textLength="24.29" lengthAdjust="spacingAndGlyphs">19</text>
<text class="b" x="537.45" y="715.40" font-size="21" text-anchor="middle" textLength="24.29" lengthAdjust="spacingAndGlyphs">21</text>
<text class="b" x="577.83" y="715.40" font-size="21" text-anchor="middle" textLength="24.29" lengthAdjust="spacingAndGlyphs">23</text>
<text class="b" x="615.71" y="715.40" font-size="21" text-anchor="middle" textLength="24.29" lengthAdjust="spacingAndGlyphs">25</text>
<text class="b" x="659.04" y="715.40" font-size="21" text-anchor="middle" textLength="24.29" lengthAdjust="spacingAndGlyphs">27</text>
<text class="b" x="700.77" y="715.40" font-size="21" text-anchor="middle" textLength="24.29" lengthAdjust="spacingAndGlyphs">29</text>
<text class="b" x="742.70" y="715.40" font-size="21" text-anchor="middle" textLength="24.29" lengthAdjust="spacingAndGlyphs">31</text>
<text class="b" x="778.83" y="715.40" font-size="21" text-anchor="middle" textLength="12.15" lengthAdjust="spacingAndGlyphs">1</text>
<text class="b" x="821.36" y="715.40" font-size="21" text-anchor="middle" textLength="12.15" lengthAdjust="spacingAndGlyphs">3</text>
<text class="b" x="861.04" y="715.40" font-size="21" text-anchor="middle" textLength="12.15" lengthAdjust="spacingAndGlyphs">5</text>
<text class="b" x="904.22" y="715.40" font-size="21" text-anchor="middle" textLength="12.15" lengthAdjust="spacingAndGlyphs">7</text>
<text class="b" x="946.35" y="715.40" font-size="21" text-anchor="middle" textLength="12.15" lengthAdjust="spacingAndGlyphs">9</text>
<text class="b" x="983.88" y="715.40" font-size="21" text-anchor="middle" textLength="24.29" lengthAdjust="spacingAndGlyphs">11</text>
<text class="b" x="1028.01" y="715.40" font-size="21" text-anchor="middle" textLength="24.29" lengthAdjust="spacingAndGlyphs">13</text>
<text class="b" x="1071.54" y="715.40" font-size="21" text-anchor="middle" textLength="24.29" lengthAdjust="spacingAndGlyphs">15</text>
<text class="b" x="1112.87" y="715.40" font-size="21" text-anchor="middle" textLength="24.29" lengthAdjust="spacingAndGlyphs">17</text>
<text class="b" x="1149.40" y="715.40" font-size="21" text-anchor="middle" textLength="24.29" lengthAdjust="spacingAndGlyphs">19</text>
<text class="b" x="1193.53" y="715.40" font-size="21" text-anchor="middle" textLength="24.29" lengthAdjust="spacingAndGlyphs">21</text>
<text class="b" x="1233.96" y="715.40" font-size="21" text-anchor="middle" textLength="24.29" lengthAdjust="spacingAndGlyphs">23</text>
<text class="b" x="1271.34" y="715.40" font-size="21" text-anchor="middle" textLength="24.29" lengthAdjust="spacingAndGlyphs">25</text>
<text class="b" x="1315.02" y="715.40" font-size="21" text-anchor="middle" textLength="24.29" lengthAdjust="spacingAndGlyphs">27</text>
<text class="b" x="388.8" y="757.4" font-size="26.2" textLength="100" lengthAdjust="spacingAndGlyphs">January</text>
<text class="b" x="1050.4" y="757.4" font-size="26.2" textLength="114.2" lengthAdjust="spacingAndGlyphs">February</text>
<text class="b" x="647.6" y="836.3" font-size="25.4" textLength="251" lengthAdjust="spacingAndGlyphs">Hourly for each day</text>
<text class="b" x="153.8" y="155.6" font-size="28.3" textLength="367" lengthAdjust="spacingAndGlyphs">Location: North Platte, NE</text>
<rect x="135" y="56.3" width="52" height="16.3" fill="#e7e7e7"/>
<text class="g" x="192.5" y="73" font-size="26" textLength="147.5" lengthAdjust="spacingAndGlyphs">Snow Depth</text>
<line x1="362.2" x2="413.1" y1="63.9" y2="63.9" stroke="#156082" stroke-width="6.2" stroke-linecap="round"/>
<text class="g" x="419" y="73" font-size="26" textLength="106" lengthAdjust="spacingAndGlyphs">Air Temp</text>
<text class="g s" x="532" y="73" font-size="28.5" textLength="41" lengthAdjust="spacingAndGlyphs">(°F)</text>
<text class="g" x="581.3" y="73" font-size="26" textLength="92.5" lengthAdjust="spacingAndGlyphs">at 6.5 ft</text>
<line x1="693" x2="743.4" y1="63.9" y2="63.9" stroke="#773709" stroke-width="5.8" stroke-linecap="round"/>
<text class="g" x="749" y="73" font-size="26" textLength="122" lengthAdjust="spacingAndGlyphs">Soil Temp</text>
<text class="g s" x="876" y="73" font-size="28.5" textLength="41" lengthAdjust="spacingAndGlyphs">(°F)</text>
<text class="g" x="924.7" y="73" font-size="26" textLength="185.5" lengthAdjust="spacingAndGlyphs">at 4-inch depth</text>
<g transform="translate(41.3,578.2) rotate(-90)"><text class="k" x="0" y="0" font-size="27" textLength="326.4" lengthAdjust="spacingAndGlyphs">Air and Soil Temperature</text><text class="k s" x="335.7" y="0" font-size="27" textLength="43.5" lengthAdjust="spacingAndGlyphs">(°F)</text></g>
<g transform="translate(1410.8,527.2) rotate(-90)"><text class="k" x="0" y="0" font-size="26.2" textLength="277" lengthAdjust="spacingAndGlyphs">Snow Depth (inches)</text></g>
</svg></body></html>
